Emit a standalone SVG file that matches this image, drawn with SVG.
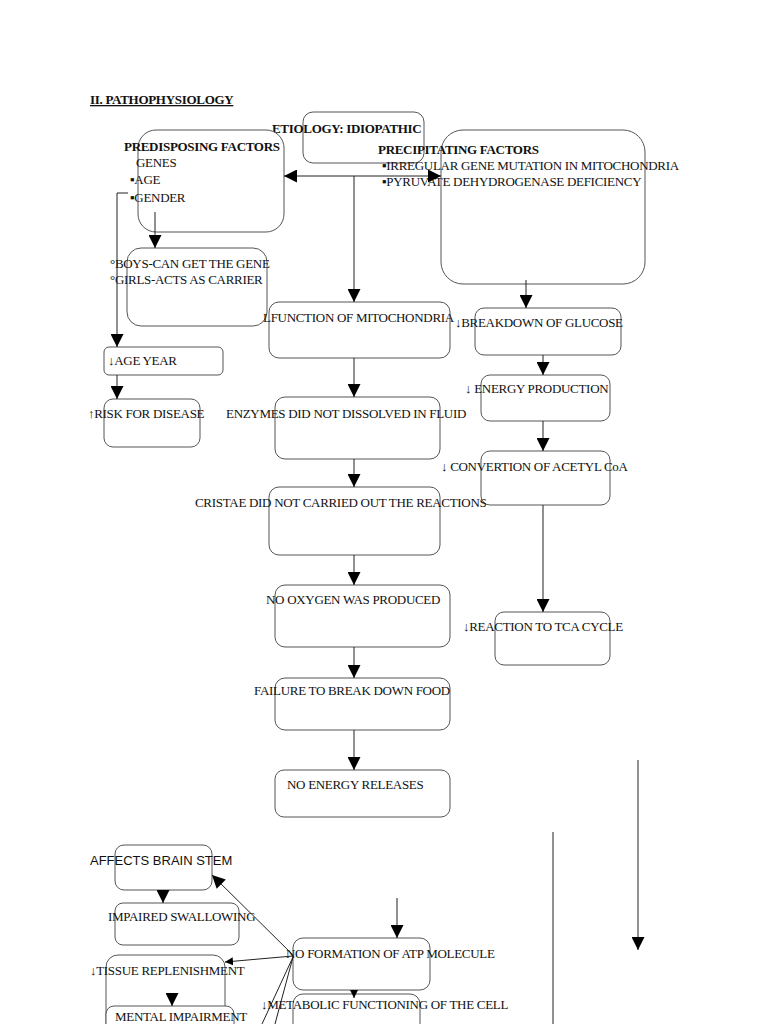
<svg xmlns="http://www.w3.org/2000/svg" width="768" height="1024" viewBox="0 0 768 1024">
<style>
.b{fill:#fff;stroke:#555;stroke-width:1}
.t{font-family:"Liberation Serif",serif;font-size:13px;fill:#111;letter-spacing:-0.3px}
.s{font-family:"Liberation Sans",sans-serif;font-size:13px;fill:#111}
.h{font-weight:bold}
.c line,.c path{stroke:#222;stroke-width:1;fill:none}
</style>
<defs><marker id="a" viewBox="0 0 10 10" refX="10" refY="5" markerWidth="8" markerHeight="10" markerUnits="userSpaceOnUse" orient="auto"><path d="M0,0L10,5L0,10z" fill="#000"/></marker>
<marker id="a2" viewBox="0 0 10 10" refX="10" refY="5" markerWidth="18" markerHeight="13" markerUnits="userSpaceOnUse" orient="auto"><path d="M0,0L10,5L0,10z" fill="#000"/></marker></defs>
<rect width="768" height="1024" fill="#fff"/>
<text class="t h" x="90" y="104" text-decoration="underline">II. PATHOPHYSIOLOGY </text>
<g id="n1"><rect class="b" x="303" y="112" width="121" height="51" rx="10"/><text class="t h" x="272" y="133">ETIOLOGY: IDIOPATHIC</text></g>
<g id="n2"><rect class="b" x="138" y="130" width="146" height="102" rx="18"/><text class="t h" x="124" y="151">PREDISPOSING FACTORS</text><text class="t" x="136" y="167">GENES</text><text class="t" x="130" y="184">▪AGE</text><text class="t" x="130" y="202">▪GENDER</text></g>
<g id="n3"><rect class="b" x="441" y="130" width="204" height="154" rx="22"/><text class="t h" x="378" y="154">PRECIPITATING FACTORS</text><text class="t" x="382" y="170">▪IRREGULAR GENE MUTATION IN MITOCHONDRIA</text><text class="t" x="382" y="186">▪PYRUVATE DEHYDROGENASE DEFICIENCY</text></g>
<g id="n4"><rect class="b" x="127" y="248" width="140" height="78" rx="14"/><text class="t" x="110" y="268">°BOYS-CAN GET THE GENE</text><text class="t" x="110" y="284">°GIRLS-ACTS AS CARRIER</text></g>
<g id="n5"><rect class="b" x="269" y="302" width="181" height="56" rx="10"/><text class="t" x="263" y="322">LFUNCTION OF MITOCHONDRIA</text></g>
<g id="n6"><rect class="b" x="475" y="308" width="146" height="47" rx="9"/><text class="t" x="455" y="327">↓BREAKDOWN OF GLUCOSE</text></g>
<g id="n7"><rect class="b" x="104" y="347" width="119" height="28" rx="5"/><text class="t" x="108" y="365">↓AGE YEAR</text></g>
<g id="n8"><rect class="b" x="481" y="375" width="129" height="46" rx="9"/><text class="t" x="465" y="393">↓ ENERGY PRODUCTION</text></g>
<g id="n9"><rect class="b" x="104" y="399" width="96" height="48" rx="9"/><text class="t" x="88" y="418">↑RISK FOR DISEASE</text></g>
<g id="n10"><rect class="b" x="275" y="397" width="165" height="62" rx="10"/><text class="t" x="226" y="418">ENZYMES DID NOT DISSOLVED IN FLUID</text></g>
<g id="n11"><rect class="b" x="481" y="451" width="129" height="54" rx="9"/><text class="t" x="441" y="471">↓ CONVERTION OF ACETYL CoA</text></g>
<g id="n12"><rect class="b" x="269" y="487" width="171" height="68" rx="10"/><text class="t" x="195" y="507">CRISTAE DID NOT CARRIED OUT THE REACTIONS</text></g>
<g id="n13"><rect class="b" x="495" y="612" width="115" height="53" rx="9"/><text class="t" x="463" y="631">↓REACTION TO TCA CYCLE</text></g>
<g id="n14"><rect class="b" x="275" y="585" width="175" height="62" rx="10"/><text class="t" x="266" y="604">NO OXYGEN WAS PRODUCED</text></g>
<g id="n15"><rect class="b" x="275" y="678" width="175" height="52" rx="10"/><text class="t" x="254" y="695">FAILURE TO BREAK DOWN FOOD</text></g>
<g id="n16"><rect class="b" x="275" y="770" width="175" height="47" rx="9"/><text class="t" x="287" y="789">NO ENERGY RELEASES</text></g>
<g id="n17"><rect class="b" x="115" y="845" width="97" height="45" rx="9"/><text class="s" x="90" y="865">AFFECTS BRAIN STEM</text></g>
<g id="n18"><rect class="b" x="115" y="903" width="124" height="42" rx="8"/><text class="t" x="108" y="921" font-size="10">IMPAIRED SWALLOWING</text></g>
<g id="n19"><rect class="b" x="106" y="955" width="119" height="80" rx="12"/><text class="t" x="90" y="975">↓TISSUE REPLENISHMENT</text></g>
<g id="n20"><rect class="b" x="293" y="938" width="137" height="52" rx="10"/><text class="t" x="286" y="958">NO FORMATION OF ATP MOLECULE</text></g>
<g id="n21"><rect class="b" x="293" y="994" width="127" height="50" rx="10"/><text class="t" x="261" y="1009">↓METABOLIC FUNCTIONING OF THE CELL</text></g>
<g id="n22"><rect class="b" x="106" y="1006" width="128" height="40" rx="8"/><text class="t" x="115" y="1021" font-size="10">MENTAL IMPAIRMENT</text></g>
<g class="c">
<line x1="354" y1="176" x2="284" y2="176" marker-end="url(#a2)"/>
<line x1="354" y1="176" x2="441" y2="176" marker-end="url(#a2)"/>
<line x1="354" y1="176" x2="354" y2="302" marker-end="url(#a2)"/>
<line x1="155" y1="212" x2="155" y2="248" marker-end="url(#a2)"/>
<path d="M128,193H117V347" marker-end="url(#a2)"/>
<line x1="526" y1="280" x2="526" y2="308" marker-end="url(#a2)"/>
<line x1="543" y1="355" x2="543" y2="375" marker-end="url(#a2)"/>
<line x1="543" y1="421" x2="543" y2="451" marker-end="url(#a2)"/>
<line x1="543" y1="505" x2="543" y2="612" marker-end="url(#a2)"/>
<line x1="117" y1="375" x2="117" y2="399" marker-end="url(#a2)"/>
<line x1="354" y1="358" x2="354" y2="397" marker-end="url(#a2)"/>
<line x1="354" y1="459" x2="354" y2="487" marker-end="url(#a2)"/>
<line x1="354" y1="555" x2="354" y2="585" marker-end="url(#a2)"/>
<line x1="354" y1="647" x2="354" y2="678" marker-end="url(#a2)"/>
<line x1="354" y1="730" x2="354" y2="770" marker-end="url(#a2)"/>
<line x1="638" y1="760" x2="638" y2="950" marker-end="url(#a2)"/>
<line x1="553" y1="832" x2="553" y2="1024"/>
<line x1="163" y1="890" x2="163" y2="903" marker-end="url(#a2)"/>
<line x1="397" y1="898" x2="397" y2="938" marker-end="url(#a2)"/>
<line x1="293" y1="955" x2="212" y2="875" marker-end="url(#a2)"/>
<line x1="293" y1="956" x2="225" y2="962" marker-end="url(#a)"/>
<line x1="172" y1="993" x2="172" y2="1006" marker-end="url(#a2)"/>
<line x1="354" y1="990" x2="354" y2="998" marker-end="url(#a)"/>
<line x1="293" y1="957" x2="262" y2="1024"/>
<line x1="293" y1="957" x2="275" y2="1024"/>
</g>
</svg>
